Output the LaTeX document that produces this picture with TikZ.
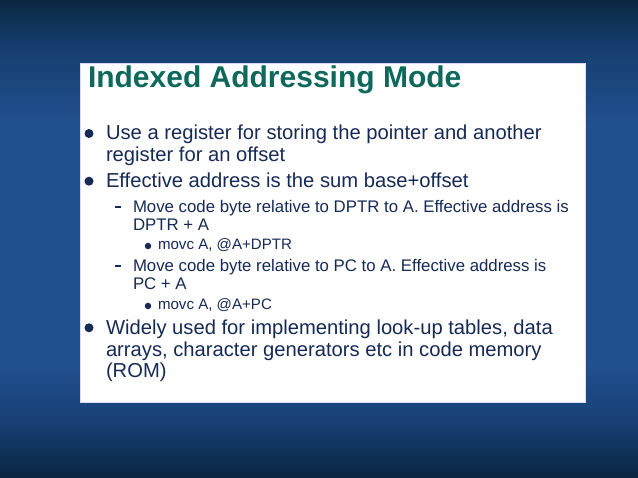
\documentclass[tikz,border=0pt]{standalone}
\usepackage{fontspec}
\setmainfont{Liberation Sans}
\usepackage{tikz}
\usetikzlibrary{positioning}

\definecolor{slidetitle}{RGB}{14,104,92}
\definecolor{slidetext}{RGB}{22,42,86}
\definecolor{bgtop}{RGB}{10,40,66}
\definecolor{bgupper}{RGB}{22,62,112}
\definecolor{bgmid}{RGB}{33,80,142}
\definecolor{bglow}{RGB}{24,64,118}
\definecolor{bgbottom}{RGB}{9,38,66}
\pgfdeclareverticalshading{slidebg}{100bp}{%
  color(0bp)=(bgbottom); color(25bp)=(bgbottom); color(31bp)=(bglow);
  color(37bp)=(bgmid); color(62bp)=(bgmid); color(70bp)=(bgupper);
  color(75bp)=(bgtop); color(100bp)=(bgtop)}

\begin{document}
\begin{tikzpicture}[x=1pt,y=-1pt,
                    every node/.style={inner sep=0pt,outer sep=0pt,text=slidetext}]
  \tikzstyle{heading}=[anchor=base west,text=slidetitle,
                       font=\fontsize{30}{30}\selectfont\bfseries]
  \tikzstyle{lvlone}=[anchor=base west,font=\fontsize{20.2}{22}\selectfont]
  \tikzstyle{lvltwo}=[anchor=base west,font=\fontsize{16.8}{18}\selectfont]
  \tikzstyle{lvlthree}=[anchor=base west,font=\fontsize{15.1}{16}\selectfont]
  \tikzstyle{bigdot}=[circle,fill=slidetext,minimum size=9pt]
  \tikzstyle{smalldot}=[circle,fill=slidetext,minimum size=6.5pt]
  \tikzstyle{dashmark}=[fill=slidetext,minimum width=6pt,minimum height=1.3pt]

  % background and slide area
  \shade[shading=slidebg] (0,0) rectangle (638,478);
  \useasboundingbox (0,0) rectangle (638,478);
  \node[fill=white,draw=white!85!blue,anchor=north west,
        minimum width=505pt,minimum height=339pt] (slide) at (80,63) {};

  \node[heading] (T) at (88,88) {Indexed Addressing Mode};

  % first level
  \node[lvlone] (B1a) at (106,140) {Use a register for storing the pointer and another};
  \node[lvlone] (B1b) at (106,161.7) {register for an offset};
  \node[lvlone] (B2)  at (106,187.7) {Effective address is the sum base+offset};
  \node[lvlone] (B3a) at (106,334.3) {Widely used for implementing look-up tables, data};
  \node[lvlone] (B3b) at (106,356.3) {arrays, character generators etc in code memory};
  \node[lvlone] (B3c) at (106,378) {(ROM)};
  \node[bigdot] (P1) at (89,133.5) {};
  \node[bigdot] (P2) at (89,181.2) {};
  \node[bigdot] (P3) at (89,327.8) {};

  % second level
  \node[lvltwo] (D1a) at (133,212.7) {Move code byte relative to DPTR to A. Effective address is};
  \node[lvltwo] (D1b) at (133,230.7) {DPTR + A};
  \node[lvltwo] (D2a) at (133,271.7) {Move code byte relative to PC to A. Effective address is};
  \node[lvltwo] (D2b) at (133,290) {PC + A};
  \node[dashmark] (M1) at (118,207) {};
  \node[dashmark] (M2) at (118,266) {};

  % third level
  \node[lvlthree] (S1) at (158,250) {movc A, @A+DPTR};
  \node[lvlthree] (S2) at (158,310) {movc A, @A+PC};
  \node[smalldot] (Q1) at (148,246) {};
  \node[smalldot] (Q2) at (148,306) {};
\end{tikzpicture}
\end{document}
